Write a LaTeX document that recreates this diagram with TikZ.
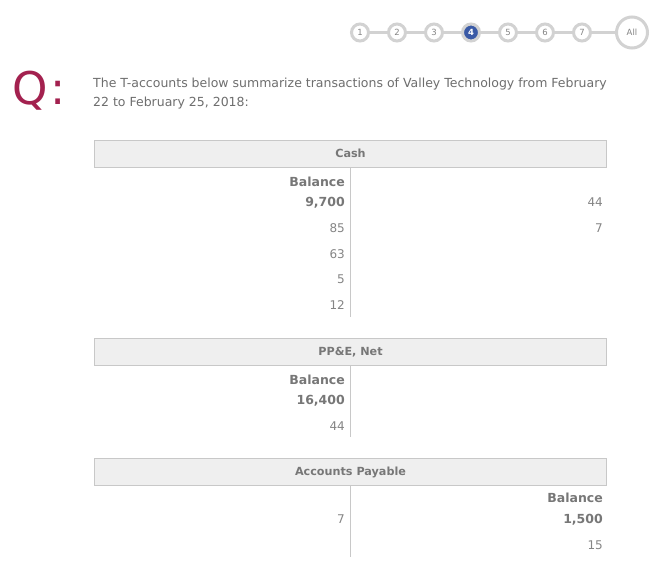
\documentclass[tikz,border=0pt]{standalone}
\usepackage{fontspec}
\setmainfont{DejaVu Sans}
\usepackage{xcolor}
\usetikzlibrary{calc}
\definecolor{qred}{HTML}{A3214F}
\definecolor{txtgray}{HTML}{6E6E6E}
\definecolor{numgray}{HTML}{858585}
\definecolor{headgray}{HTML}{777777}
\definecolor{headfill}{HTML}{EFEFEF}
\definecolor{rulegray}{HTML}{C8C8C8}
\definecolor{ringgray}{HTML}{D2D2D2}
\definecolor{stepblue}{HTML}{3A5AA6}
\tikzset{%
    head/.style={inner sep=0pt,outer sep=0pt,shape=rectangle,draw=rulegray,fill=headfill,minimum width=512pt,minimum height=27pt,font=\fontsize{11.2}{13}\selectfont\bfseries,text=headgray},
    entry/.style={inner sep=0pt,anchor=base east,font=\fontsize{12}{13}\selectfont,text=numgray},
    bal/.style={entry,font=\fontsize{12.5}{14}\selectfont\bfseries,text=headgray},
    tline/.style={draw=rulegray,line width=0.9pt},
    dot/.style={circle,draw=ringgray,line width=3pt,fill=white,minimum size=17pt,inner sep=0pt,font=\fontsize{8.5}{9}\selectfont,text=numgray},
}

\begin{document}
\begin{tikzpicture}[x=1pt,y=-1pt]
      \useasboundingbox (0,0) rectangle (654,576);
      \fill[white] (0,0) rectangle (654,576);

      \foreach \i in {1,2,3,5,6,7}
        \node[dot] (s\i) at ({360+37*(\i-1)},32.5) {\i};
      \node[dot,fill=stepblue,text=white,font=\fontsize{8.5}{9}\selectfont\bfseries] (s4) at (471,32.5) {4};
      \node[dot,minimum size=31pt] (sall) at (632,32.5) {All};
      \foreach \i/\j in {1/2,2/3,3/4,4/5,5/6,6/7,7/all}
        \draw[ringgray,line width=3pt] (s\i) -- (s\j);

      \node[anchor=base west,inner sep=0pt,text=qred,font=\fontsize{45}{45}\selectfont] (q) at (12,104) {Q\kern3pt:};
      \node[anchor=base west,inner sep=0pt,text=txtgray,font=\fontsize{12.5}{14}\selectfont] (qline1) at (93,87) {The T-accounts below summarize transactions of Valley Technology from February};
      \node[anchor=base west,inner sep=0pt,text=txtgray,font=\fontsize{12.5}{14}\selectfont] (qline2) at (93,106) {22 to February 25, 2018:};

      \node[head] (cash) at (350.5,153.5) {Cash};
      \coordinate (cashend) at (350.5,317);
      \draw[tline] (cash.south) -- (cashend);
      \node[bal] (cbal) at (345,186.5) {Balance};
      \node[bal] (cbalv) at (345,206) {9,700};
      \node[entry] (cl1) at (345,232.5) {85};
      \node[entry] (cl2) at (345,258) {63};
      \node[entry] (cl3) at (345,283.5) {5};
      \node[entry] (cl4) at (345,309.5) {12};
      \node[entry] (cr1) at (603,206) {44};
      \node[entry] (cr2) at (603,232.5) {7};

      \node[head] (ppe) at (350.5,352) {PP\&E, Net};
      \coordinate (ppeend) at (350.5,437);
      \draw[tline] (ppe.south) -- (ppeend);
      \node[bal] (pbal) at (345,384.5) {Balance};
      \node[bal] (pbalv) at (345,404) {16,400};
      \node[entry] (pl1) at (345,430.5) {44};

      \node[head] (ap) at (350.5,472) {Accounts Payable};
      \coordinate (apend) at (350.5,557);
      \draw[tline] (ap.south) -- (apend);
      \node[bal] (abal) at (603,502.5) {Balance};
      \node[bal] (abalv) at (603,523) {1,500};
      \node[entry] (al1) at (345,523) {7};
      \node[entry] (ar1) at (603,549.5) {15};
    \end{tikzpicture}
\end{document}
